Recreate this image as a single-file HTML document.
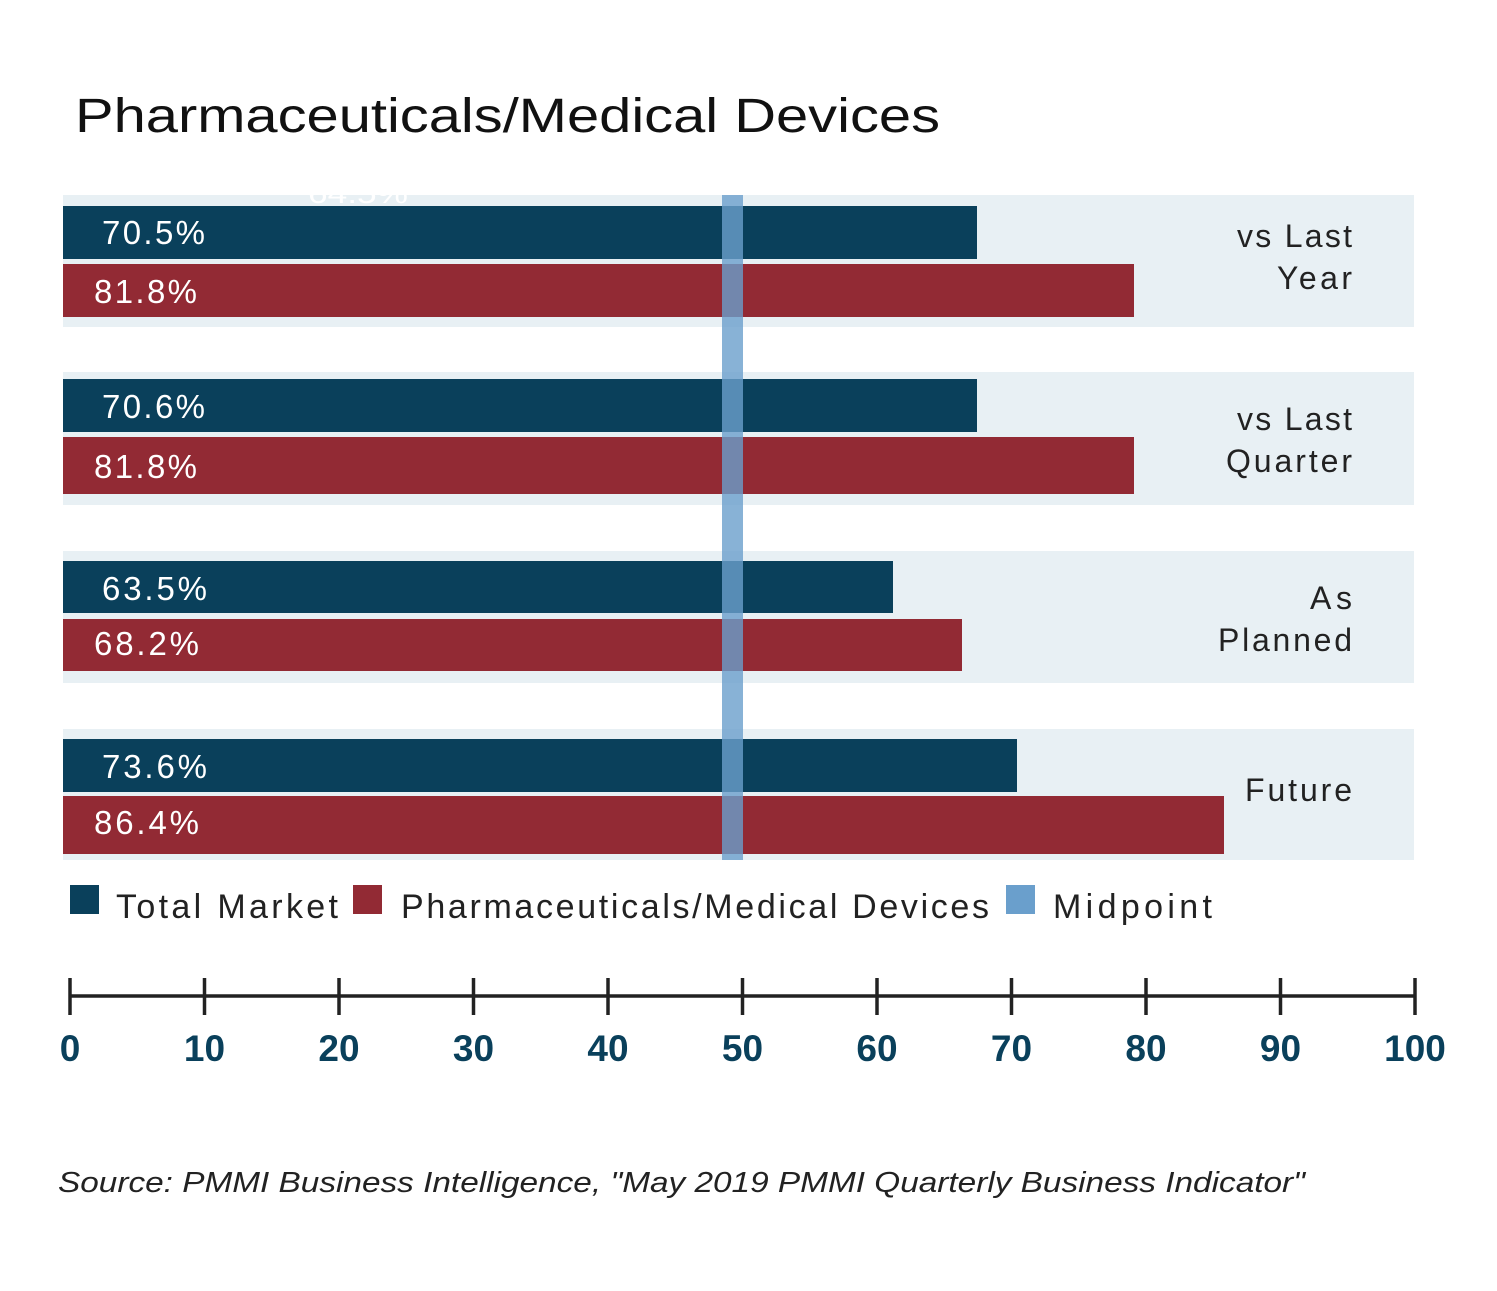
<!DOCTYPE html>
<html><head><style>body{margin:0;background:#fff}svg{display:block}</style></head><body>
<svg width="1497" height="1291" xmlns="http://www.w3.org/2000/svg" font-family="Liberation Sans, sans-serif">
<text x="75" y="132" font-size="48" fill="#111" textLength="865" lengthAdjust="spacingAndGlyphs">Pharmaceuticals/Medical Devices</text>
<g fill="#e8f0f4">
<rect x="63" y="195" width="1351" height="132"/>
<rect x="63" y="372" width="1351" height="133"/>
<rect x="63" y="551" width="1351" height="132"/>
<rect x="63" y="729" width="1351" height="131"/>
</g>
<text x="308" y="203" font-size="28" fill="#fff" textLength="100" lengthAdjust="spacingAndGlyphs">64.5%</text>
<g fill="#0a405b">
<rect x="63" y="206" width="914" height="53"/>
<rect x="63" y="379" width="914" height="53"/>
<rect x="63" y="561" width="830" height="52"/>
<rect x="63" y="739" width="954" height="53"/>
</g>
<g fill="#922a34">
<rect x="63" y="264" width="1071" height="53"/>
<rect x="63" y="437" width="1071" height="57"/>
<rect x="63" y="619" width="899" height="52"/>
<rect x="63" y="796" width="1161" height="58"/>
</g>
<rect x="722" y="195" width="21" height="665" fill="#6a9fcc" opacity="0.8"/>
<g font-size="33" fill="#fff" lengthAdjust="spacingAndGlyphs">
<text x="102" y="244" textLength="103">70.5%</text><text x="94" y="303" textLength="103">81.8%</text>
<text x="102" y="418" textLength="103">70.6%</text><text x="94" y="478" textLength="103">81.8%</text>
<text x="102" y="600" textLength="105">63.5%</text><text x="94" y="655" textLength="105">68.2%</text>
<text x="102" y="778" textLength="105">73.6%</text><text x="94" y="834" textLength="105">86.4%</text>
</g>
<g font-size="32" fill="#222" lengthAdjust="spacingAndGlyphs">
<text x="1237" y="247" textLength="115">vs Last</text><text x="1277" y="289" textLength="75">Year</text>
<text x="1237" y="430" textLength="115">vs Last</text><text x="1226" y="472" textLength="126">Quarter</text>
<text x="1310" y="609" textLength="42">As</text><text x="1218" y="651" textLength="134">Planned</text>
<text x="1245" y="801" textLength="107">Future</text>
</g>
<rect x="70" y="885" width="29" height="29" fill="#0a405b"/>
<rect x="353" y="885" width="29" height="29" fill="#922a34"/>
<rect x="1006" y="885" width="29" height="29" fill="#6a9fcc"/>
<g font-size="34" fill="#222" lengthAdjust="spacingAndGlyphs">
<text x="116" y="918" textLength="222">Total Market</text>
<text x="401" y="918" textLength="588">Pharmaceuticals/Medical Devices</text>
<text x="1053" y="918" textLength="159">Midpoint</text>
</g>
<line x1="70" y1="996" x2="1416" y2="996" stroke="#222" stroke-width="3.5"/>
<g stroke="#222" stroke-width="3.5">
<line x1="70" y1="978" x2="70" y2="1015"/><line x1="204.5" y1="978" x2="204.5" y2="1015"/>
<line x1="339" y1="978" x2="339" y2="1015"/><line x1="473.5" y1="978" x2="473.5" y2="1015"/>
<line x1="608" y1="978" x2="608" y2="1015"/><line x1="742.5" y1="978" x2="742.5" y2="1015"/>
<line x1="877" y1="978" x2="877" y2="1015"/><line x1="1011.5" y1="978" x2="1011.5" y2="1015"/>
<line x1="1146" y1="978" x2="1146" y2="1015"/><line x1="1280.5" y1="978" x2="1280.5" y2="1015"/>
<line x1="1415" y1="978" x2="1415" y2="1015"/>
</g>
<g font-size="37" font-weight="bold" fill="#0a405b" text-anchor="middle">
<text x="70" y="1061">0</text><text x="204.5" y="1061">10</text><text x="339" y="1061">20</text>
<text x="473.5" y="1061">30</text><text x="608" y="1061">40</text><text x="742.5" y="1061">50</text>
<text x="877" y="1061">60</text><text x="1011.5" y="1061">70</text><text x="1146" y="1061">80</text>
<text x="1280.5" y="1061">90</text><text x="1415" y="1061">100</text>
</g>
<text x="58" y="1192" font-size="29" font-style="italic" fill="#222" textLength="1247" lengthAdjust="spacingAndGlyphs">Source: PMMI Business Intelligence, "May 2019 PMMI Quarterly Business Indicator"</text>
</svg>
</body></html>
